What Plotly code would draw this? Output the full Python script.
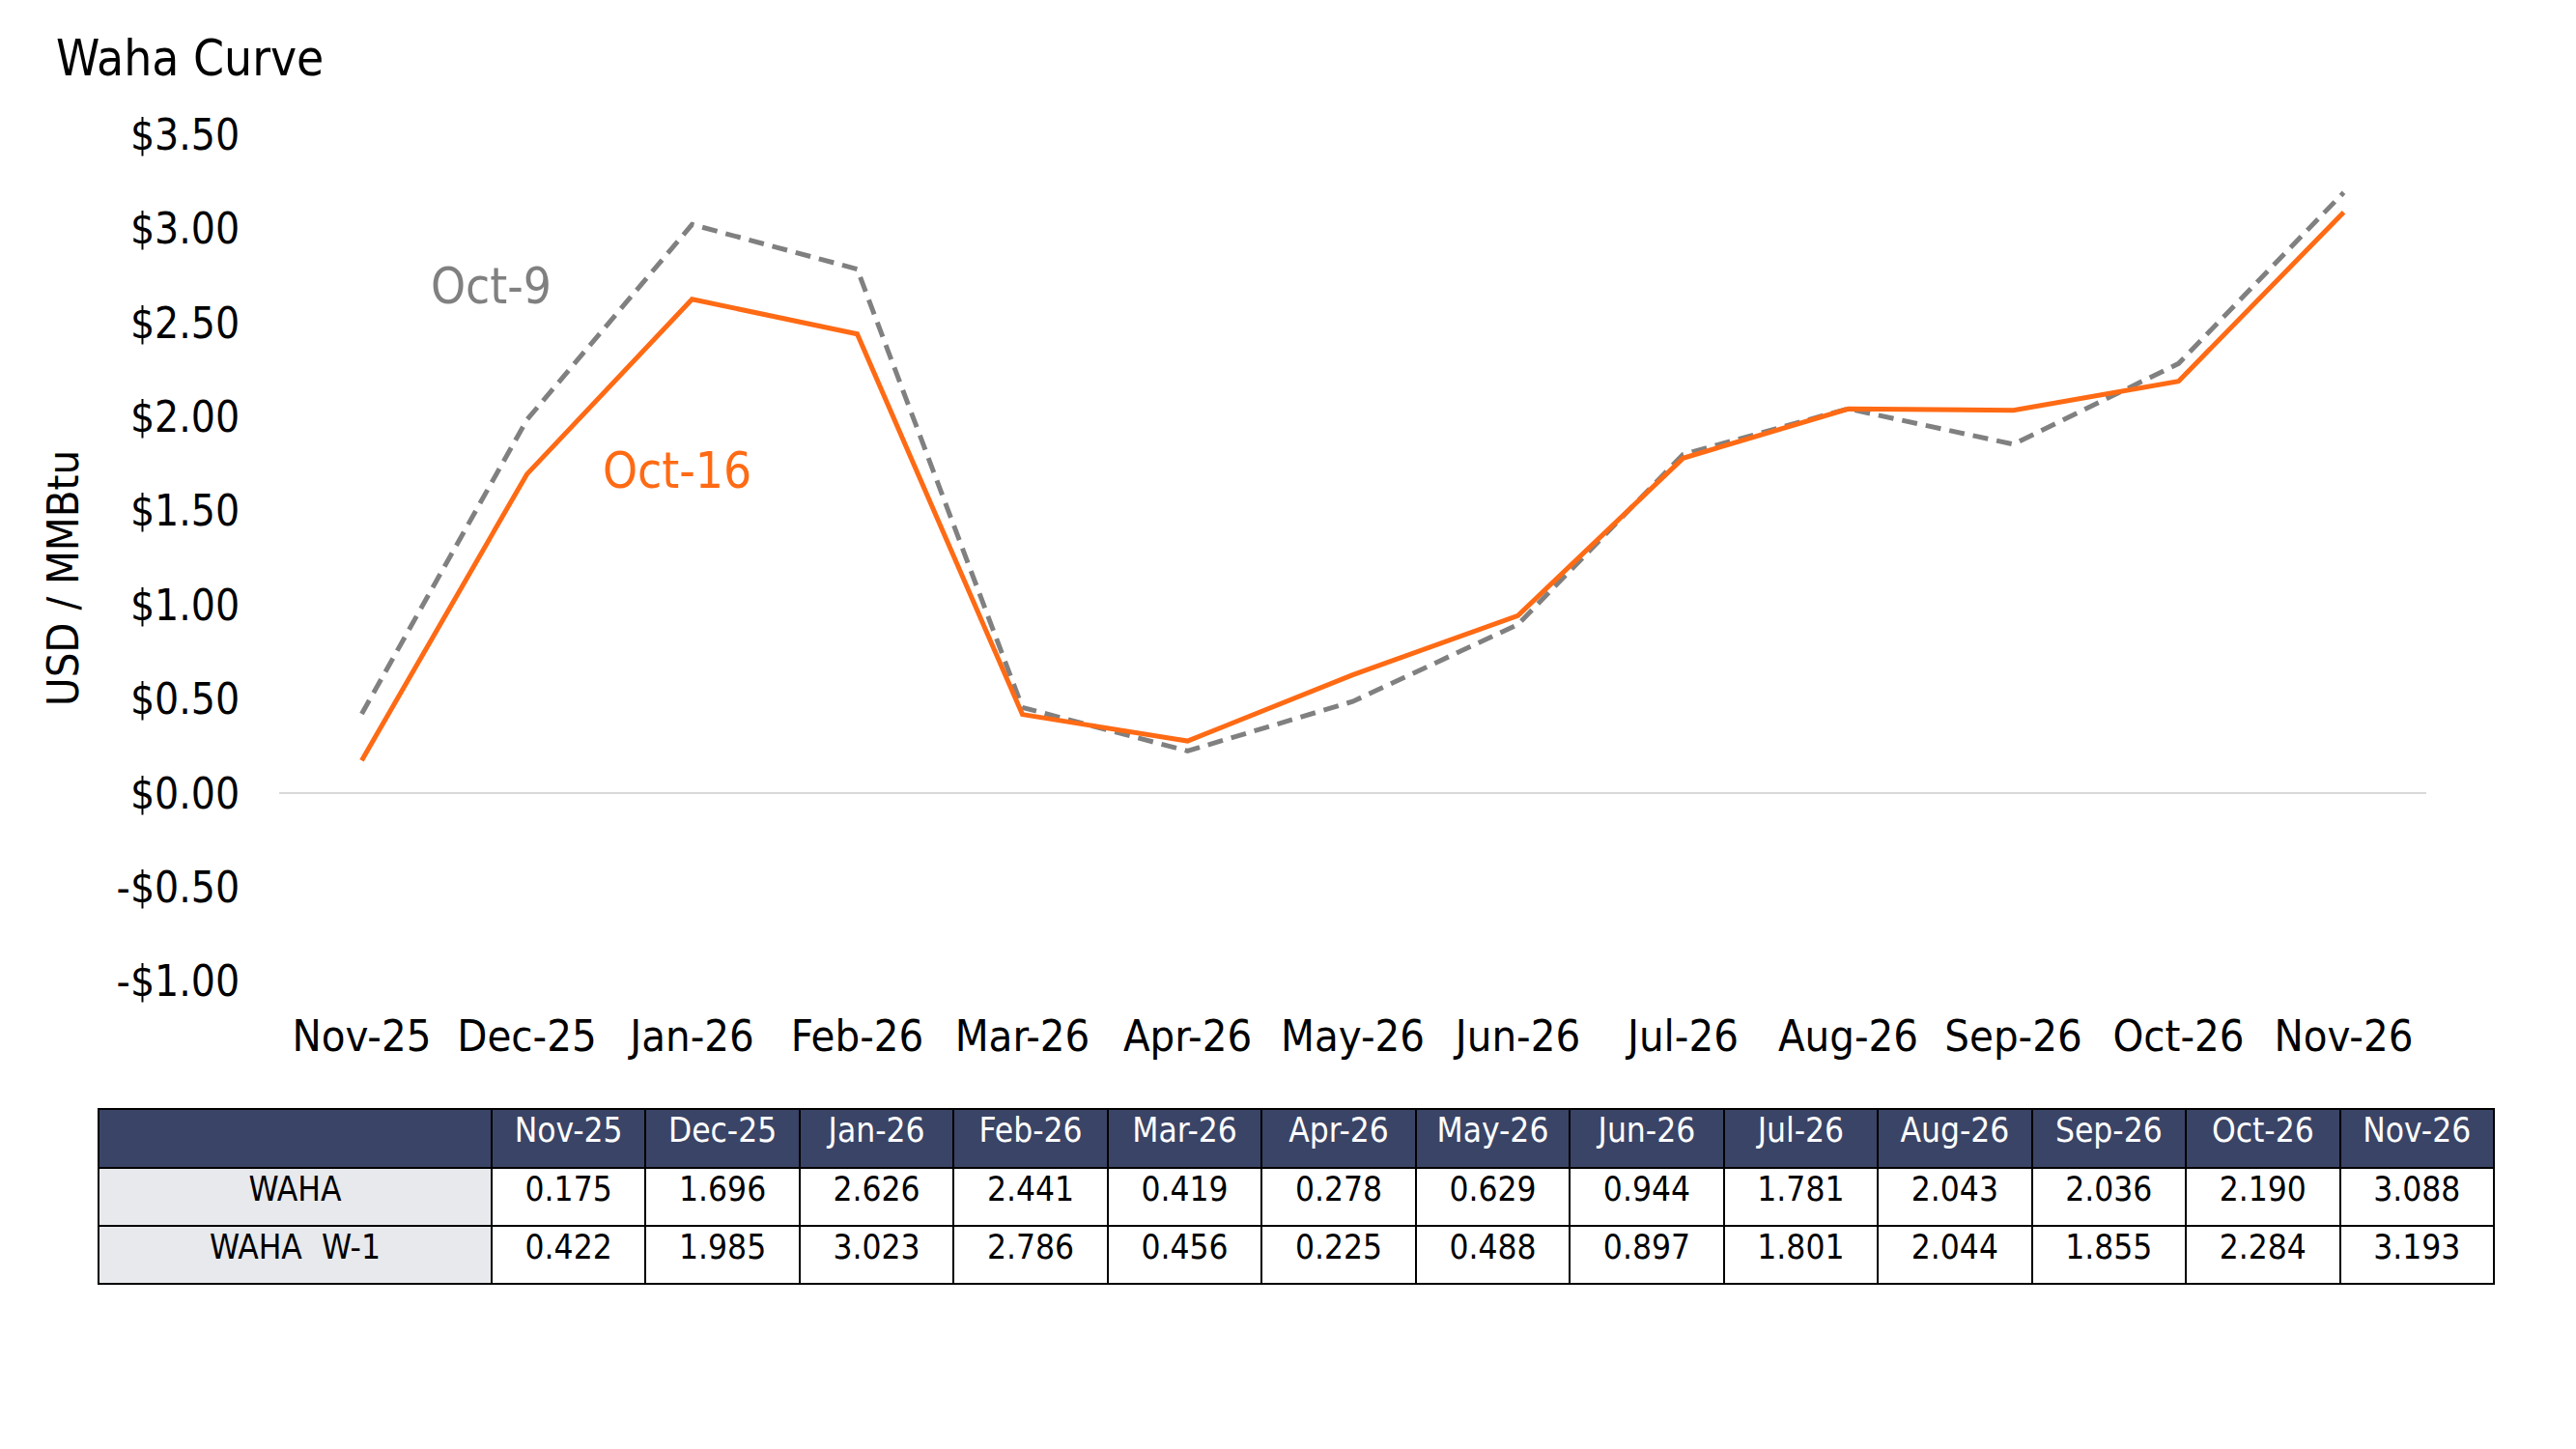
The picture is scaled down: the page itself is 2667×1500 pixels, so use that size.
import plotly.graph_objects as go

months = ["Nov-25", "Dec-25", "Jan-26", "Feb-26", "Mar-26", "Apr-26", "May-26",
          "Jun-26", "Jul-26", "Aug-26", "Sep-26", "Oct-26", "Nov-26"]
waha = [0.175, 1.696, 2.626, 2.441, 0.419, 0.278, 0.629, 0.944, 1.781, 2.043, 2.036, 2.190, 3.088]
waha_w1 = [0.422, 1.985, 3.023, 2.786, 0.456, 0.225, 0.488, 0.897, 1.801, 2.044, 1.855, 2.284, 3.193]
row_names = ["WAHA", "WAHA  W-1"]
ytick_vals = [-1.0, -0.5, 0.0, 0.5, 1.0, 1.5, 2.0, 2.5, 3.0, 3.5]
ytick_text = ["-$1.00", "-$0.50", "$0.00", "$0.50", "$1.00", "$1.50", "$2.00", "$2.50", "$3.00", "$3.50"]

W, H = 2667, 1500
FONT = "Liberation Sans Narrow, DejaVu Sans Condensed, Arial Narrow, sans-serif"
ORANGE = "#FF6A14"
GRAY = "#808080"
NAVY = "#3A4466"

def px_x(x):
    return x / W

def px_y(y):
    return 1 - y / H

fig = go.Figure()

fig.add_trace(go.Scatter(x=months, y=waha_w1, mode="lines", name="Oct-9",
                         line=dict(color=GRAY, width=5, dash="16px,9px"),
                         xaxis="x", yaxis="y"))
fig.add_trace(go.Scatter(x=months, y=waha, mode="lines", name="Oct-16",
                         line=dict(color=ORANGE, width=5),
                         xaxis="x", yaxis="y"))

header_vals = [""] + months
cell_vals = [row_names] + [[f"{a:.3f}", f"{b:.3f}"] for a, b in zip(waha, waha_w1)]
first_fill = ["#E7E9EC", "#E7E9EC"]
cell_fill = [first_fill] + [["white", "white"]] * len(months)

fig.add_trace(go.Table(
    domain=dict(x=[px_x(102), px_x(2582)], y=[px_y(1332), px_y(1148)]),
    columnwidth=[407] + [159.5] * len(months),
    header=dict(values=header_vals, fill_color=NAVY, align="center",
                line=dict(color="black", width=2), height=61,
                font=dict(family=FONT, size=35, color="white")),
    cells=dict(values=cell_vals, fill_color=cell_fill, align="center",
               line=dict(color="black", width=2), height=60,
               font=dict(family=FONT, size=35, color="black")),
))

fig.update_layout(
    width=W, height=H,
    margin=dict(l=0, r=0, t=0, b=0, autoexpand=False),
    paper_bgcolor="white", plot_bgcolor="white",
    showlegend=False,
    font=dict(family=FONT, color="black"),
    xaxis=dict(domain=[px_x(289), px_x(2512)], type="category", automargin=False,
               range=[-0.5, len(months) - 0.5],
               showgrid=False, zeroline=False, showline=False,
               ticks="outside", ticklen=17, tickcolor="rgba(0,0,0,0)",
               tickfont=dict(family=FONT, size=45, color="black")),
    yaxis=dict(domain=[px_y(1016), px_y(139.5)], range=[-1.0, 3.5], automargin=False,
               tickvals=ytick_vals, ticktext=ytick_text,
               showgrid=False, zeroline=True, zerolinecolor="#D9D9D9", zerolinewidth=2,
               showline=False, ticks="outside", ticklen=31, tickcolor="rgba(0,0,0,0)",
               tickfont=dict(family=FONT, size=44, color="black")),
    annotations=[
        dict(text="Waha Curve", x=px_x(56), y=px_y(60), xref="paper", yref="paper",
             xanchor="left", yanchor="middle", showarrow=False,
             font=dict(family=FONT, size=51, color="black")),
        dict(text="USD / MMBtu", x=px_x(65), y=px_y(599), xref="paper", yref="paper",
             xanchor="center", yanchor="middle", textangle=-90, showarrow=False,
             font=dict(family=FONT, size=45, color="black")),
        dict(text="Oct-9", x=px_x(508), y=px_y(296), xref="paper", yref="paper",
             xanchor="center", yanchor="middle", showarrow=False,
             font=dict(family=FONT, size=51, color=GRAY)),
        dict(text="Oct-16", x=px_x(701), y=px_y(488), xref="paper", yref="paper",
             xanchor="center", yanchor="middle", showarrow=False,
             font=dict(family=FONT, size=51, color=ORANGE)),
    ],
)

fig.write_html("out.html")
